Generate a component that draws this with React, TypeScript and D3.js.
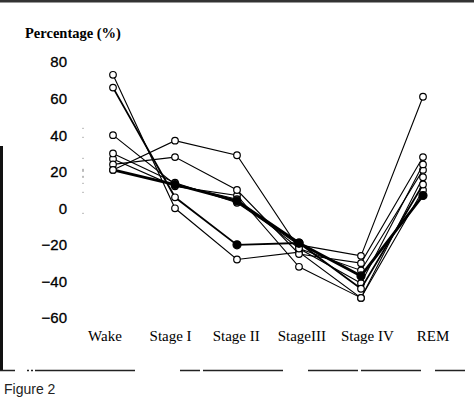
import React, { useEffect, useRef } from 'react'
import * as d3 from 'd3'

const stages = ['Wake', 'Stage I', 'Stage II', 'StageIII', 'Stage IV', 'REM']
const yTicks = [80, 60, 40, 20, 0, -20, -40, -60]

// one line per subject (percentage change)
const subjectA = [73, 0, -28, -24, -49, 17]
const subjectB = [66, 6, -20, -19, -44, 13]
const subjectC = [40, 13, 5, -22, -34, 21]
const subjectD = [30, 14, 3, -20, -26, 61]
const subjectE = [27, 12, 7, -32, -49, 10]
const subjectF = [24, 28, 10, -25, -30, 28]
const subjectG = [21, 37, 29, -22, -41, 24]
const subjectH = [21, 13, 4, -19, -37, 7]

const series = [
  { values: subjectA, width: 1.1, filled: [] },
  { values: subjectE, width: 1.1, filled: [] },
  { values: subjectC, width: 1.1, filled: [] },
  { values: subjectD, width: 1.1, filled: [] },
  { values: subjectF, width: 1.1, filled: [] },
  { values: subjectG, width: 1.1, filled: [] },
  { values: subjectB, width: 1.8, filled: [2, 3] },
  { values: subjectH, width: 2.8, filled: [1, 2, 3, 4, 5] }
]

const W = 474
const H = 397

export default function App() {
  const ref = useRef<SVGSVGElement>(null)

  useEffect(() => {
    const svg = d3.select(ref.current)
    svg.selectAll('*').remove()

    const x = d3.scalePoint().domain(stages).range([113, 423])
    const xLabel = d3.scalePoint().domain(stages).range([105, 433])
    const y = d3.scaleLinear().domain([-60, 80]).range([318, 62])

    // scan frame remnants
    svg.append('rect').attr('x', 0).attr('y', 0).attr('width', W).attr('height', 2.5).attr('fill', '#333')
    svg.append('rect').attr('x', 0).attr('y', 146).attr('width', 3).attr('height', 224).attr('fill', '#111')
    svg.append('line')
      .attr('x1', 0).attr('x2', W).attr('y1', 370.5).attr('y2', 370.5)
      .attr('stroke', '#222').attr('stroke-width', 1.3)
      .attr('stroke-dasharray', '15 12 2 2 2 2 100 45 20 3 80 25 50 3 60 14 30')

    svg.append('text')
      .attr('x', 25).attr('y', 38)
      .attr('font-family', 'Liberation Serif, serif')
      .attr('font-weight', 'bold').attr('font-size', 14.5)
      .text('Percentage (%)')

    // faint dotted y axis
    svg.append('line')
      .attr('x1', 83).attr('x2', 83).attr('y1', y(44)).attr('y2', y(-7))
      .attr('stroke', '#777').attr('stroke-width', 1)
      .attr('stroke-dasharray', '1 8 1 20 1 10 3 4 2 5')

    svg.append('g').selectAll('text').data(yTicks).join('text')
      .attr('x', 67).attr('y', d => y(d)).attr('dy', '0.36em')
      .attr('text-anchor', 'end')
      .attr('font-family', 'Liberation Sans, Arial, sans-serif')
      .attr('font-size', 15).attr('fill', '#000')
      .attr('stroke', '#000').attr('stroke-width', 0.3)
      .text(d => (d < 0 ? '\u2212' + Math.abs(d) : String(d)))

    svg.append('g').selectAll('text').data(stages).join('text')
      .attr('x', d => xLabel(d)).attr('y', 341)
      .attr('text-anchor', 'middle')
      .attr('font-family', 'Liberation Serif, serif')
      .attr('font-size', 15).attr('fill', '#000')
      .text(d => d)

    const line = d3.line<number>()
      .x((d, i) => x(stages[i]) as number)
      .y(d => y(d))

    const g = svg.append('g')
    for (const s of series) {
      g.append('path')
        .attr('d', line(s.values))
        .attr('fill', 'none').attr('stroke', '#000')
        .attr('stroke-width', s.width)
      g.append('g').selectAll('circle').data(s.values).join('circle')
        .attr('cx', (d, i) => x(stages[i]) as number)
        .attr('cy', d => y(d))
        .attr('r', (d, i) => (s.filled.includes(i) ? 4 : 3.3))
        .attr('fill', (d, i) => (s.filled.includes(i) ? '#000' : '#fff'))
        .attr('stroke', '#000').attr('stroke-width', 1.2)
    }

    svg.append('text')
      .attr('x', 4).attr('y', 394)
      .attr('font-family', 'Liberation Sans, Arial, sans-serif')
      .attr('font-size', 14).attr('fill', '#222')
      .text('Figure 2')
  }, [])

  return (
    <svg
      ref={ref}
      width={W}
      height={H}
      viewBox={`0 0 ${W} ${H}`}
      style={{ position: 'absolute', left: 0, top: 0, background: '#fff' }}
    />
  )
}
